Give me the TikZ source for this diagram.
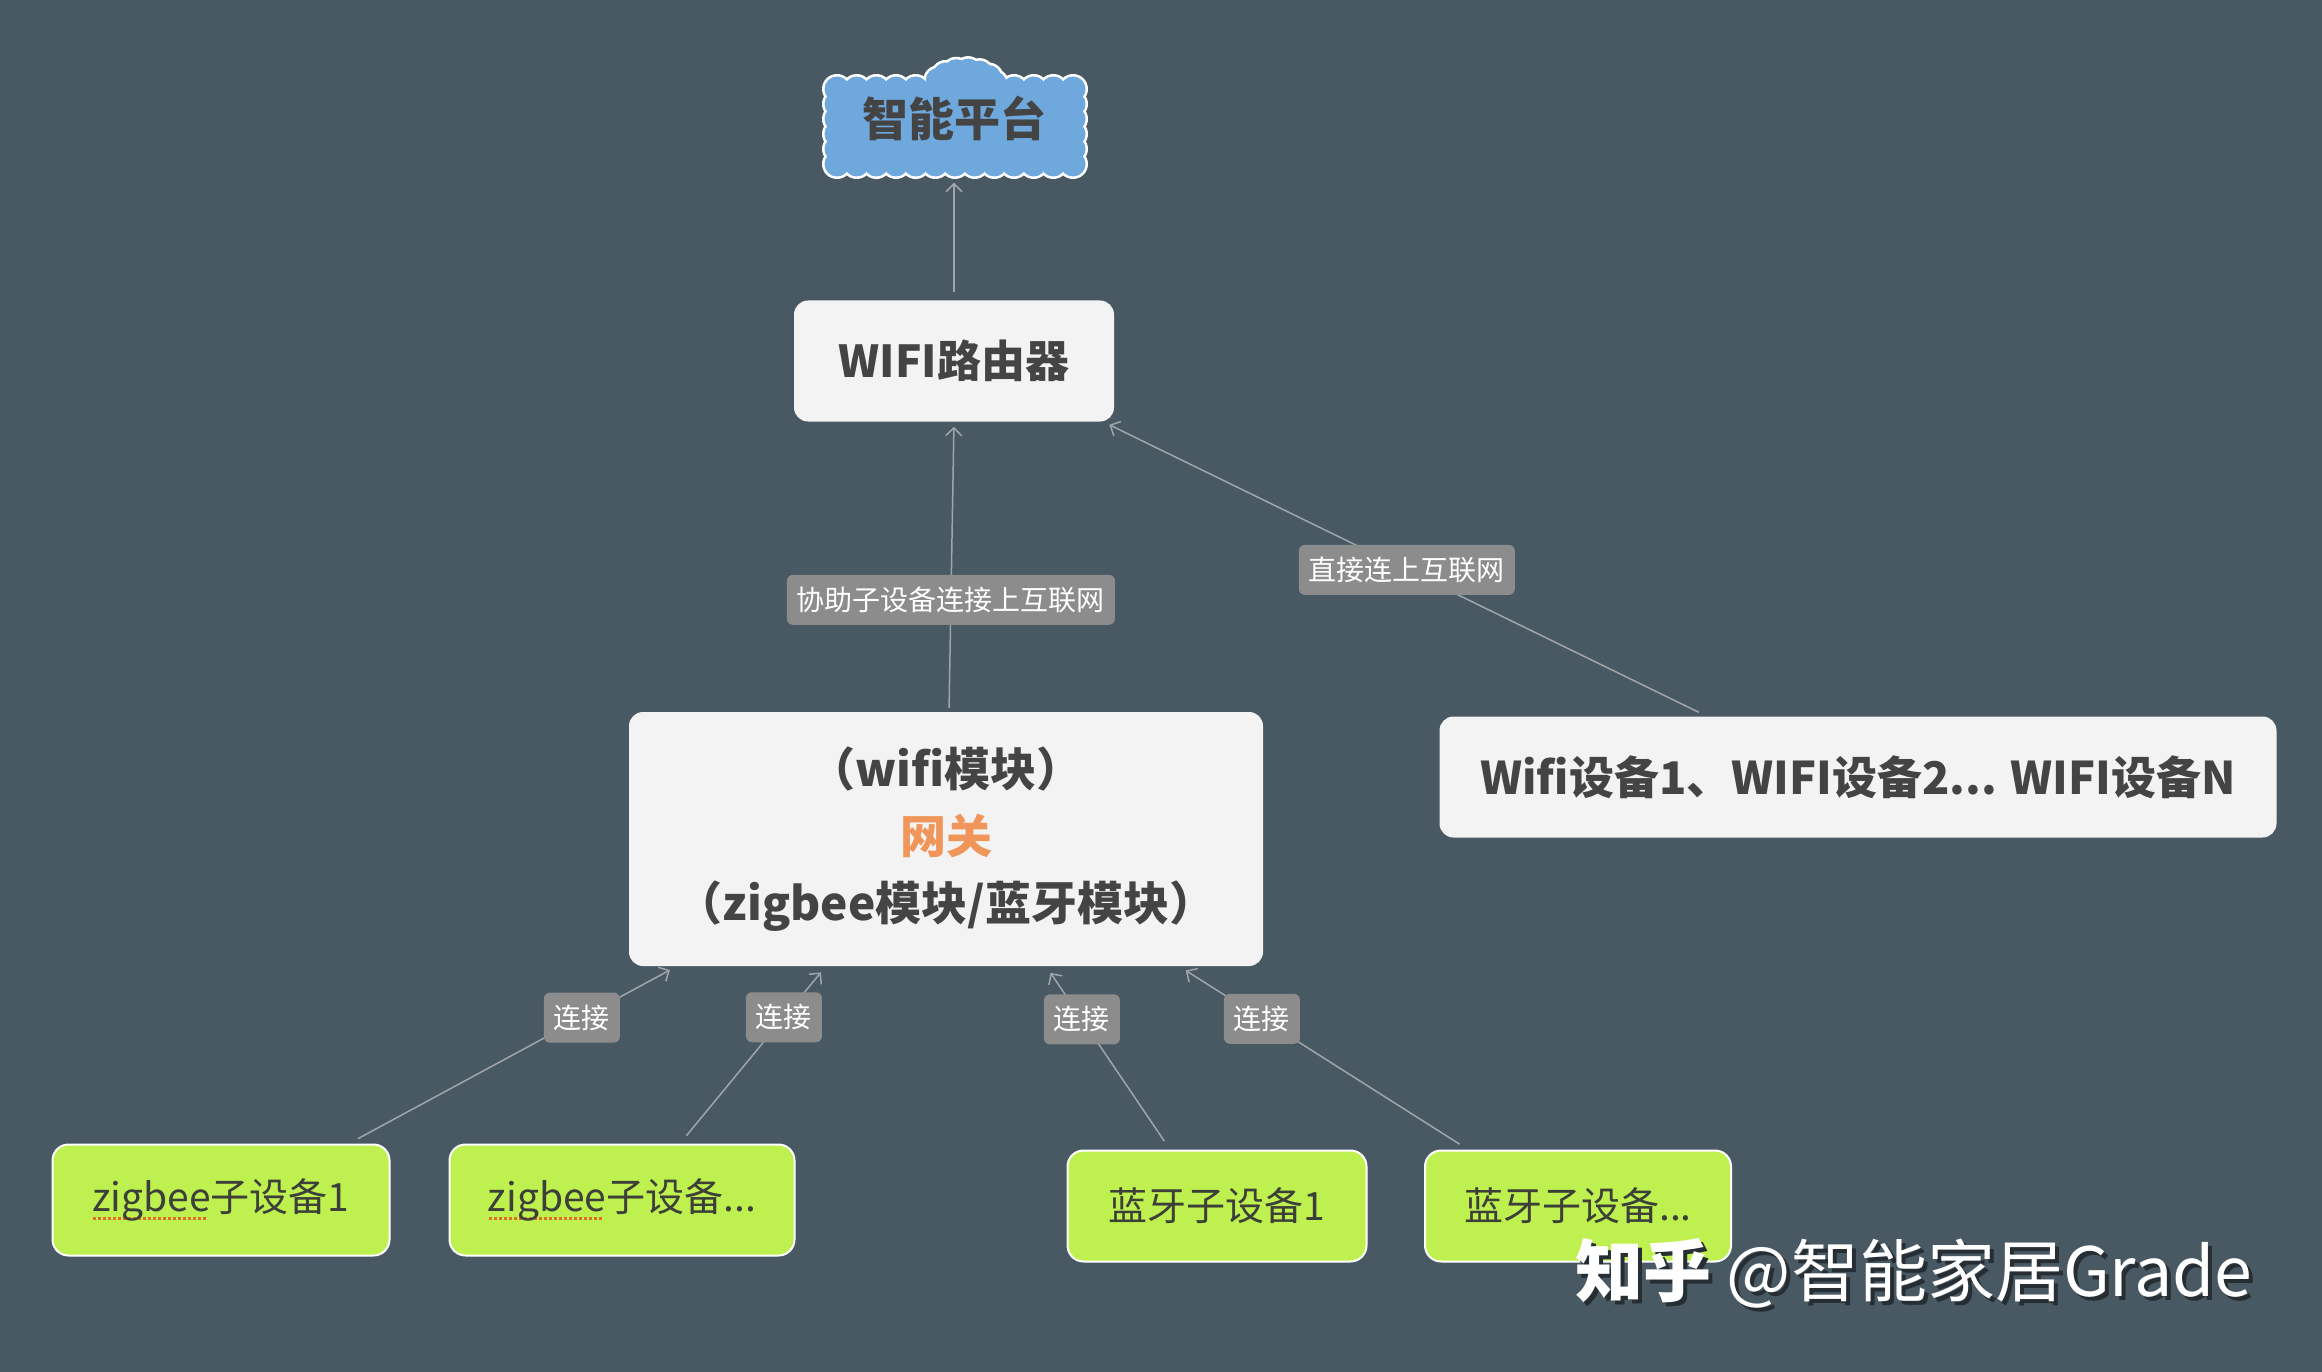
\documentclass[tikz,border=0pt]{standalone}
\usepackage{fontspec}
\setmainfont{Noto Sans CJK SC}
\usetikzlibrary{arrows.meta}
\definecolor{bgc}{RGB}{73,89,99}
\definecolor{boxfill}{RGB}{243,243,243}
\definecolor{textdark}{RGB}{68,68,68}
\definecolor{gwor}{RGB}{240,150,90}
\definecolor{greenbox}{RGB}{190,240,80}
\definecolor{greentext}{RGB}{60,64,56}
\definecolor{lblgray}{RGB}{140,140,140}
\definecolor{linegray}{RGB}{160,165,170}
\definecolor{cloudblue}{RGB}{110,168,220}
\definecolor{dotorange}{RGB}{225,110,40}
\definecolor{shadowc}{RGB}{38,46,52}
\newcommand\zigul[1]{\setbox0=\hbox{#1}\rlap{\raisebox{-8pt}{\textcolor{dotorange}{\leaders\hbox to 5pt{\hss\rule{3pt}{3pt}\hss}\hskip\wd0}}}\box0}
\begin{document}
\begin{tikzpicture}[x=1pt,y=-1pt,
  whitebox/.style={fill=boxfill, rounded corners=14pt, text=textdark, inner sep=0pt},
  greenb/.style={fill=greenbox, draw=white, line width=2pt, rounded corners=16pt, text=greentext, inner sep=0pt, minimum height=111pt, font=\fontsize{39}{46}\selectfont},
  conn/.style={draw=linegray, line width=1.5pt, -{Straight Barb[length=8pt,width=16pt]}},
  lbl/.style={fill=lblgray, text=white, rounded corners=6pt, inner xsep=10pt, inner ysep=0pt, minimum height=50pt, font=\fontsize{28}{32}\selectfont}
]
\fill[bgc] (0,0) rectangle (2322,1372);
\useasboundingbox (0,0) rectangle (2322,1372);

% cloud shape (scalloped outline)
\begin{scope}
  % white outline layer
  \foreach \i in {0,...,12} {
    \fill[white] ({837+\i*236/12},89) circle[radius=15pt];
    \fill[white] ({837+\i*236/12},164) circle[radius=15pt];
  }
  \foreach \i in {1,...,4} {
    \fill[white] (837,{89+\i*75/5}) circle[radius=15pt];
    \fill[white] (1073,{89+\i*75/5}) circle[radius=15pt];
  }
  \foreach \a in {15,38,...,170} {
    \fill[white] ({965+30*cos(\a)},{88-17*sin(\a)}) circle[radius=15pt];
  }
  % blue layer
  \fill[cloudblue] (837,89) rectangle (1073,164);
  \fill[cloudblue] (965,88) ellipse[x radius=30pt, y radius=17pt];
  \foreach \i in {0,...,12} {
    \fill[cloudblue] ({837+\i*236/12},89) circle[radius=12.5pt];
    \fill[cloudblue] ({837+\i*236/12},164) circle[radius=12.5pt];
  }
  \foreach \i in {1,...,4} {
    \fill[cloudblue] (837,{89+\i*75/5}) circle[radius=12.5pt];
    \fill[cloudblue] (1073,{89+\i*75/5}) circle[radius=12.5pt];
  }
  \foreach \a in {15,38,...,170} {
    \fill[cloudblue] ({965+30*cos(\a)},{88-17*sin(\a)}) circle[radius=12.5pt];
  }
\end{scope}

% nodes
\node[text=textdark, inner sep=0pt, minimum width=266pt, minimum height=121pt, font=\bfseries\fontsize{46}{54}\selectfont] (cloud) at (954,118) {智能平台};
\node[whitebox, minimum width=320pt, minimum height=121pt, font=\bfseries\fontsize{44}{52}\selectfont] (router) at (954,361) {WIFI路由器};
\node[whitebox, minimum width=634pt, minimum height=254pt, align=center, font=\bfseries\fontsize{46}{67}\selectfont] (gw) at (946,839) {（wifi模块）\\\textcolor{gwor}{网关}\\（zigbee模块/蓝牙模块）};
\node[whitebox, minimum width=837pt, minimum height=121pt, font=\bfseries\fontsize{45}{52}\selectfont] (wifi) at (1858,777) {Wifi设备1、WIFI设备2... WIFI设备N};
\node[greenb, minimum width=337pt] (zb1) at (221,1200) {\zigul{zigbee}子设备1};
\node[greenb, minimum width=345pt] (zb2) at (622,1200) {\zigul{zigbee}子设备...};
\node[greenb, minimum width=299pt] (bt1) at (1217,1206) {蓝牙子设备1};
\node[greenb, minimum width=306pt] (bt2) at (1578,1206) {蓝牙子设备...};

% connectors
\draw[conn, shorten <=8pt, shorten >=4pt] (router.north) -- (cloud.south);
\draw[conn, shorten <=4pt, shorten >=5pt] ([xshift=3pt]gw.north) -- node[lbl, pos=0.386] (l1) {协助子设备连接上互联网} (router.south);
\draw[conn, shorten <=9pt, shorten >=7pt] ([xshift=-151pt]wifi.north) -- node[lbl, pos=0.497] (l2) {直接连上互联网} ([xshift=149pt]router.south);
\draw[conn, shorten <=10pt, shorten >=8pt] ([xshift=128pt]zb1.north) -- node[lbl, pos=0.71] (l3) {连接} ([xshift=-269pt]gw.south);
\draw[conn, shorten <=10pt, shorten >=8pt] ([xshift=58pt]zb2.north) -- node[lbl, pos=0.712] (l4) {连接} ([xshift=-120pt]gw.south);
\draw[conn, shorten <=10pt, shorten >=8pt] ([xshift=-47pt]bt1.north) -- node[lbl, pos=0.71] (l5) {连接} ([xshift=100pt]gw.south);
\draw[conn, shorten <=10pt, shorten >=8pt] ([xshift=-110pt]bt2.north) -- node[lbl, pos=0.713] (l6) {连接} ([xshift=233pt]gw.south);

% watermark
\node[text=shadowc, font=\fontsize{68}{76}\selectfont, inner sep=0pt] (wms) at (1918,1277) {\textbf{知乎} @智能家居Grade};
\node[text=white, font=\fontsize{68}{76}\selectfont, inner sep=0pt] (wm) at (1914,1273) {\textbf{知乎} @智能家居Grade};
\end{tikzpicture}
\end{document}
